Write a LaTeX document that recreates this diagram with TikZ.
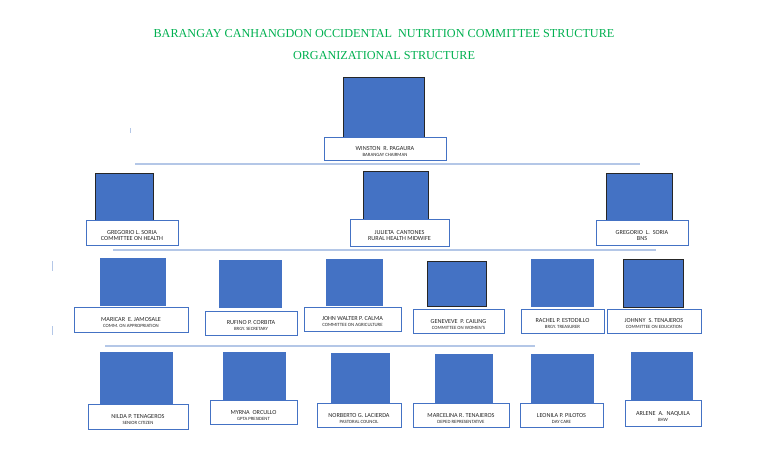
\documentclass[tikz,border=0pt]{standalone}
\usepackage{fontspec}
\setmainfont{Carlito}
\newfontfamily\titlefont{Liberation Serif}
\definecolor{obl}{HTML}{4472C4}
\definecolor{ttl}{HTML}{00B050}
\definecolor{sep}{HTML}{B4C7E7}
\newcommand\rbox[6]{%
  \node[#2,minimum width={#5pt-#3pt},minimum height={#6pt-#4pt}] (#1) at ({(#3+#5)/2},{(#4+#6)/2}) {};}
\newcommand\ltext[3]{%
  \node[nm] (#1n) at ([yshift=-3pt]#1.center) {#2\\[-1pt]{\fontsize{4.8}{5.5}\selectfont #3}};}
\begin{document}
\begin{tikzpicture}[x=1pt,y=-1pt,
  pic/.style={fill=obl,draw=obl,inner sep=0,line width=0.6pt},
  blk/.style={pic,draw=black!85},
  lbl/.style={fill=white,draw=obl,inner sep=0,line width=0.7pt},
  nm/.style={align=center,font=\fontsize{6.2}{7}\selectfont,inner sep=0,text=black!85,anchor=center},
  sepl/.style={draw=sep,line width=1.2pt}]
\useasboundingbox (0,0) rectangle (768,466);
\node[text=ttl,font=\titlefont\fontsize{12.2}{14}\selectfont] (t1) at (384,34) {BARANGAY CANHANGDON OCCIDENTAL\ \ NUTRITION COMMITTEE STRUCTURE};
\node[text=ttl,font=\titlefont\fontsize{12.2}{14}\selectfont] (t2) at (384,56) {ORGANIZATIONAL STRUCTURE};
\coordinate (s1a) at (135,164); \coordinate (s1b) at (640,164);
\coordinate (s2a) at (113,250); \coordinate (s2b) at (656,250);
\coordinate (s3a) at (105,346); \coordinate (s3b) at (535,346);
\draw[sepl] (s1a) -- (s1b); \draw[sepl] (s2a) -- (s2b); \draw[sepl] (s3a) -- (s3b);
\coordinate (k1a) at (130,128); \coordinate (k1b) at (130,133);
\coordinate (k2a) at (52,261); \coordinate (k2b) at (52,271);
\coordinate (k3a) at (52,326); \coordinate (k3b) at (52,335);
\draw[sep,line width=0.8pt] (k1a)--(k1b) (k2a)--(k2b) (k3a)--(k3b);
% top
\rbox{wp}{blk}{343}{77}{424}{137}\rbox{wl}{lbl}{324}{137}{446}{160}
\ltext{wl}{WINSTON\ \ R. PAGAURA}{BARANGAY CHAIRMAN}
% row 2
\rbox{gp}{blk}{95}{173}{153}{220}\rbox{gl}{lbl}{86}{220}{178}{245}
\ltext{gl}{GREGORIO L.\ SORIA}{\fontsize{6.2}{7}\selectfont COMMITTEE ON HEALTH}
\rbox{jp}{blk}{363}{171}{428}{221}\rbox{jl}{lbl}{350}{219}{449}{246}
\ltext{jl}{JULIETA\ \ CANTONES}{\fontsize{6.2}{7}\selectfont RURAL HEALTH MIDWIFE}
\rbox{bp}{blk}{606}{173}{672}{221}\rbox{bl}{lbl}{596}{220}{688}{245}
\ltext{bl}{GREGORIO\ \ L.\ \ SORIA}{\fontsize{6.2}{7}\selectfont BNS}
% row 3
\rbox{mp}{pic}{100}{258}{165}{305}\rbox{ml}{lbl}{74}{307}{188}{332}
\ltext{ml}{MARICAR\ \ E. JAMOSALE}{COMM. ON APPROPRIATION}
\rbox{rp}{pic}{219}{260}{281}{307}\rbox{rl}{lbl}{205}{311}{297}{335}
\ltext{rl}{RUFINO P. CORBITA}{BRGY. SECRETARY}
\rbox{cp}{pic}{326}{259}{382}{305}\rbox{cl}{lbl}{304}{307}{401}{331}
\ltext{cl}{JOHN WALTER P. CALMA}{COMMITTEE ON AGRICULTURE}
\rbox{vp}{blk}{427}{261}{486}{306}\rbox{vl}{lbl}{413}{309}{504}{333}
\ltext{vl}{GENEVEVE\ \ P. CAILING}{COMMITTEE ON WOMEN'S}
\rbox{ep}{pic}{531}{259}{593}{306}\rbox{el}{lbl}{521}{309}{604}{333}
\ltext{el}{RACHEL P. ESTODILLO}{BRGY. TREASURER}
\rbox{tp}{blk}{623}{259}{683}{307}\rbox{tl}{lbl}{607}{309}{701}{333}
\ltext{tl}{JOHNNY\ \ S. TENAJEROS}{COMMITTEE ON EDUCATION}
% row 4
\rbox{np}{pic}{100}{352}{172}{405}\rbox{nl}{lbl}{88}{404}{188}{429}
\ltext{nl}{NILDA P. TENAGEROS}{SENIOR CITIZEN}
\rbox{yp}{pic}{223}{352}{285}{400}\rbox{yl}{lbl}{210}{400}{297}{424}
\ltext{yl}{MYRNA\ \ ORCULLO}{GPTA PRESIDENT}
\rbox{op}{pic}{331}{353}{389}{405}\rbox{ol}{lbl}{317}{403}{401}{427}
\ltext{ol}{NORBERTO G. LACIERDA}{PASTORAL COUNCIL}
\rbox{ap}{pic}{435}{354}{492}{405}\rbox{al}{lbl}{413}{403}{509}{427}
\ltext{al}{MARCELINA\ R. TENAJEROS}{DEPED REPRESENTATIVE}
\rbox{lp}{pic}{531}{354}{593}{404}\rbox{ll}{lbl}{520}{403}{603}{427}
\ltext{ll}{LEONILA\ P. PILOTOS}{DAY CARE}
\rbox{qp}{pic}{631}{352}{692}{402}\rbox{ql}{lbl}{625}{400}{701}{426}
\ltext{ql}{ARLENE\ \ A.\ \ NAQUILA}{BHW}
\end{tikzpicture}
\end{document}
